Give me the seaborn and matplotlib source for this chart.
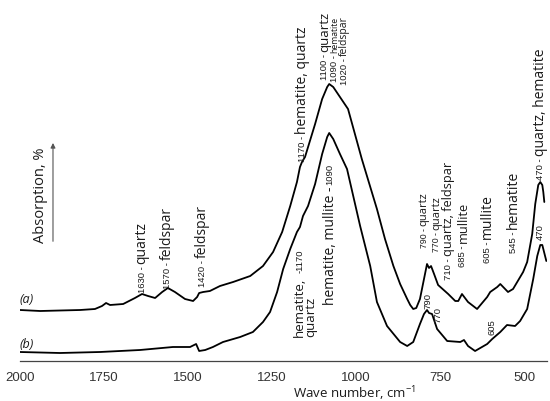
import numpy as np
import pandas as pd
import matplotlib
matplotlib.use("Agg")
import matplotlib.pyplot as plt
import seaborn as sns


# IR spectra (absorption in arbitrary units)
wave_a = [2000, 1940, 1881, 1821, 1777, 1756, 1744, 1732, 1693, 1658, 1637, 1619,
          1598, 1577, 1560, 1539, 1509, 1485, 1473, 1467, 1455, 1435, 1405, 1366,
          1315, 1277, 1247, 1220, 1196, 1176, 1167, 1161, 1152, 1122, 1101, 1086,
          1080, 1068, 1054, 1024, 983, 938, 914, 889, 869, 848, 839, 830, 821, 810,
          795, 789, 783, 777, 768, 756, 726, 705, 696, 685, 667, 640, 610, 601,
          580, 571, 548, 533, 503, 491, 476, 467, 458, 452, 446, 443, 440]
abs_a = [51, 50, 50.5, 51, 52, 55, 58, 56, 57, 63, 67, 65,
         63, 69, 73, 69, 62, 60, 64, 68, 69, 70, 75, 79,
         85, 95, 109, 129, 155, 179, 194, 199, 204, 237, 262, 274,
         277, 274, 267, 252, 202, 152, 122, 95, 77, 62, 56, 52, 53, 62,
         87, 97, 93, 95, 87, 76, 67, 60, 60, 67, 59, 52, 64, 69,
         74, 77, 69, 72, 89, 99, 127, 157, 176, 179, 176, 169, 159]

wave_b = [2000, 1881, 1762, 1643, 1545, 1494, 1482, 1476, 1467, 1449, 1426, 1396,
          1345, 1307, 1277, 1256, 1235, 1217, 1196, 1176, 1167, 1158, 1143, 1122,
          1101, 1086, 1080, 1068, 1048, 1027, 988, 958, 938, 908, 869, 848, 830,
          810, 798, 789, 783, 774, 759, 729, 690, 679, 667, 646, 610, 595, 571,
          551, 527, 512, 491, 473, 461, 452, 446, 443, 434]
abs_b = [9, 8, 9, 11, 14, 14, 16, 17, 10, 11, 14, 19,
         24, 29, 39, 49, 69, 92, 112, 129, 134, 145, 155, 177,
         207, 224, 228, 222, 207, 192, 135, 95, 59, 35, 19, 15, 19,
         37, 47, 51, 48, 47, 32, 20, 19, 21, 15, 10, 17, 22, 29,
         36, 35, 40, 52, 82, 105, 116, 116, 112, 100]

tick_waves = [2000, 1750, 1500, 1250, 1000, 750, 500]

ink = "#1a1a1a"
word_font = ["Open Sans", "DejaVu Sans"]
num_font = ["Liberation Sans", "DejaVu Sans"]

sns.set_style("white")
plt.rcParams["font.family"] = word_font
plt.rcParams["mathtext.fontset"] = "custom"
plt.rcParams["mathtext.rm"] = "Open Sans"
plt.rcParams["mathtext.default"] = "regular"

fig = plt.figure(figsize=(5.5, 4.02), dpi=100)
ax = fig.add_axes([20 / 550, 40 / 402, 527 / 550, 362 / 402])

df = pd.concat([
    pd.DataFrame({"wave": wave_a, "absorption": abs_a, "sample": "a"}),
    pd.DataFrame({"wave": wave_b, "absorption": abs_b, "sample": "b"}),
])
sns.lineplot(data=df, x="wave", y="absorption", hue="sample",
             palette={"a": "black", "b": "black"}, estimator=None, sort=False,
             legend=False, lw=1.3, ax=ax)

ax.set_xlim(2000, 432)
ax.set_ylim(0, 362)
sns.despine(ax=ax, left=True)
ax.spines["bottom"].set_color("#444444")
ax.spines["bottom"].set_linewidth(0.9)
ax.set_yticks([])
ax.set_ylabel("")
ax.set_xticks(tick_waves)
ax.tick_params(axis="x", direction="inout", length=7, width=0.9, color="#444444",
               labelsize=9.5, labelcolor="#333333", pad=4)
for lab in ax.get_xticklabels():
    lab.set_fontfamily(num_font)
ax.set_xlabel("Wave number, cm$^{-1}$", fontsize=9.5, color=ink)
ax.xaxis.set_label_coords(0.634, -0.062)


def tag(w, h, first, second="", size1=6.8, size2=10, fam1=num_font, fam2=word_font):
    t = ax.text(w, h, first, rotation=90, ha="center", va="bottom",
                fontsize=size1, family=fam1, color=ink)
    if second:
        ax.annotate(second, xy=(0.5, 1), xycoords=t, xytext=(0, 1.5),
                    textcoords="offset points", rotation=90, ha="center",
                    va="bottom", fontsize=size2, family=fam2, color=ink)


# sample (a)
tag(1637, 69, "1630 -", "quartz")
tag(1562, 73, "1570 -", "feldspar")
tag(1458, 75, "1420 -", "feldspar")
tag(1158, 200, "1170 -", "hematite, quartz")
tag(1094, 282, "1100 -", "quartz", size2=9.5)
tag(1064, 280, "1090 -", "hematite", size2=6.2)
tag(1034, 277, "1020 -", "feldspar", size2=7.5)
tag(797, 114, "790 -", "quartz", size1=6.3, size2=8)
tag(761, 110, "770 -", "quartz", size1=6.3, size2=8)
tag(726, 82, "710 -", "quartz, feldspar", size2=9.2)
tag(682, 95, "685 -", "mullite", size2=9.2)
tag(610, 99, "605 -", "mullite")
tag(533, 109, "545 -", "hematite")
tag(452, 182, "470 -", "quartz, hematite")

# sample (b)
tag(787, 53, "790")
tag(757, 39, "770")
tag(595, 27, "605")
tag(452, 122, "470")
ax.text(1152, 25, "hematite,\nquartz", rotation=90, ha="center", va="bottom",
        fontsize=9.5, linespacing=0.85, multialignment="left", color=ink)
tag(1168, 89, "-1170")
tag(1077, 57, "hematite, mullite -", "1090", size1=10, size2=6.8,
    fam1=word_font, fam2=num_font)

ax.text(1979, 56, "(a)", style="italic", fontsize=9, ha="center", va="bottom", color=ink)
ax.text(1979, 11, "(b)", style="italic", fontsize=9, ha="center", va="bottom", color=ink)

ax.text(0.038, 0.46, "Absorption, %", transform=ax.transAxes, rotation=90,
        ha="center", va="center", fontsize=10.5, color=ink)
ax.annotate("", xy=(0.0626, 0.61), xytext=(0.0626, 0.323), xycoords="axes fraction",
            arrowprops=dict(arrowstyle="-|>", lw=0.8, color="#555555",
                            mutation_scale=7))

fig.savefig("out.png", dpi=100)
